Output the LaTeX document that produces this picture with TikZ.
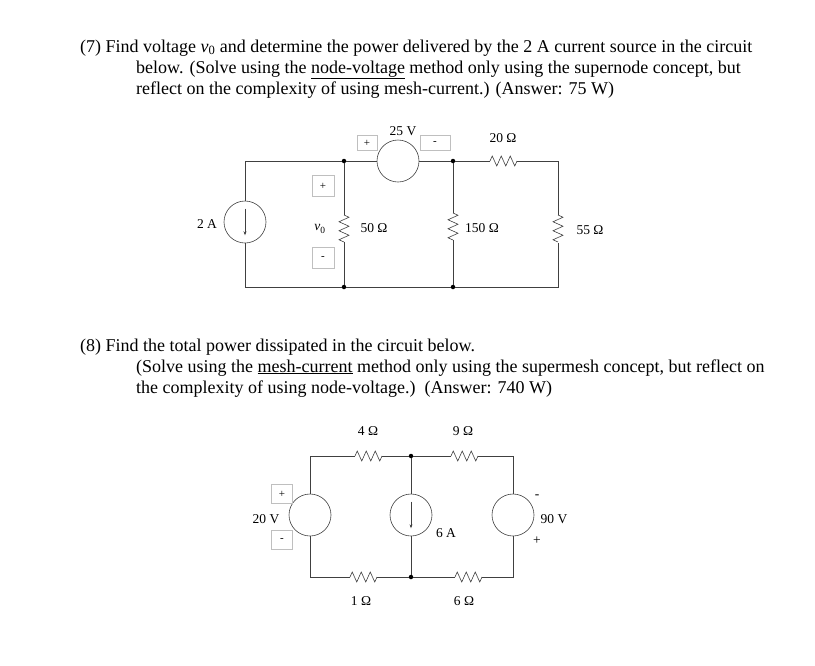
\documentclass[tikz,border=0pt]{standalone}
\usepackage{fontspec}
\setmainfont{Liberation Serif}
\usetikzlibrary{decorations.pathmorphing,arrows.meta}
\tikzset{
  wire/.style={draw=black!75, line width=0.6pt},
  res/.style={wire, decoration={zigzag, segment length=9pt, amplitude=5pt}, decorate},
  src/.style={circle, draw=black!75, line width=0.6pt, minimum size=42pt, inner sep=0pt},
  dot/.style={circle, fill=black, inner sep=0pt, minimum size=4.5pt},
  pm/.style={draw=black!25, font=\fontsize{11}{11}\selectfont, minimum width=20pt, minimum height=15pt, inner sep=0pt},
  lbl/.style={font=\fontsize{13.5}{13.5}\selectfont, inner sep=1pt},
  txt/.style={anchor=base west, font=\fontsize{18}{18}\selectfont, inner sep=0pt}
}
\begin{document}
\begin{tikzpicture}[x=1pt, y=-1pt]
\useasboundingbox (0,0) rectangle (815,665);
% problem 7 text
\node[txt] (t1) at (80,52) {(7) Find voltage \textit{v}\textsubscript{0} and determine the power delivered by the 2 A current source in the circuit};
\node[txt] (t2) at (136,73) {below. (Solve using the \underline{node-voltage} method only using the supernode concept, but};
\node[txt] (t3) at (136,94) {reflect on the complexity of using mesh-current.) (Answer: 75 W)};
% circuit 7
\coordinate (a1) at (245,161);
\coordinate (a2) at (245,287);
\node[dot] (b1) at (344,161) {};
\node[dot] (b2) at (344,287) {};
\node[dot] (c1) at (453,161) {};
\node[dot] (c2) at (453,287) {};
\coordinate (d1) at (558,161);
\coordinate (d2) at (558,287);
\node[src] (s2a) at (245,222) {};
\node[src] (s25) at (398,161) {};
\draw[-{Stealth[length=4pt]}, wire] ([yshift=-8pt]s2a.north) -- ([yshift=8pt]s2a.south);
\draw[wire] (s2a.north) -- (a1) -- (b1) -- (s25.west);
\draw[wire] (s2a.south) -- (a2) -- (b2) -- (c2) -- (d2) -- (558,243);
\draw[wire] (s25.east) -- (c1) -- (490,161);
\draw[res] (490,161) -- (517,161);
\draw[wire] (517,161) -- (d1) -- (558,215);
\draw[res] (558,215) -- (558,242);
\draw[wire] (b1) -- (344,215); \draw[res] (344,215) -- (344,242); \draw[wire] (344,242) -- (b2);
\draw[wire] (c1) -- (453,213); \draw[res] (453,213) -- (453,240); \draw[wire] (453,240) -- (c2);
\node[lbl] (l25) at (403,131) {25 V};
\node[pm] (p25) at (367,143) {+};
\node[pm, minimum width=30pt] (m25) at (435,143) {-};
\node[lbl] (l20) at (503,138) {20 Ω};
\node[lbl] (l2a) at (207,224) {2 A};
\node[pm, minimum width=22pt, minimum height=21pt] (pv) at (323,186) {+};
\node[pm, minimum width=22pt, minimum height=21pt] (mv) at (323,258) {-};
\node[lbl] (lv) at (320,229) {\textit{v}\textsubscript{0}};
\node[lbl] (l50) at (374,228) {50 Ω};
\node[lbl] (l150) at (482,228) {150 Ω};
\node[lbl] (l55) at (590,230) {55 Ω};
% problem 8 text
\node[txt] (u1) at (80,351) {(8) Find the total power dissipated in the circuit below.};
\node[txt] (u2) at (136,372) {(Solve using the \underline{mesh-current} method only using the supermesh concept, but reflect on};
\node[txt] (u3) at (136,393) {the complexity of using node-voltage.)\ \ (Answer: 740 W)};
% circuit 8
\coordinate (e1) at (310,456);
\coordinate (e2) at (310,577);
\node[dot] (f1) at (411,456) {};
\node[dot] (f2) at (411,577) {};
\coordinate (g1) at (513,456);
\coordinate (g2) at (513,577);
\node[src] (s20) at (310,515) {};
\node[src] (s6a) at (411,515) {};
\node[src] (s90) at (513,515) {};
\draw[-{Stealth[length=4pt]}, wire] ([yshift=-8pt]s6a.north) -- ([yshift=8pt]s6a.south);
\draw[wire] (s20.north) -- (e1) -- (355,456); \draw[res] (355,456) -- (382,456);
\draw[wire] (382,456) -- (f1) -- (451,456); \draw[res] (451,456) -- (478,456);
\draw[wire] (478,456) -- (g1) -- (s90.north);
\draw[wire] (s20.south) -- (e2) -- (350,577); \draw[res] (350,577) -- (377,577);
\draw[wire] (377,577) -- (f2) -- (455,577); \draw[res] (455,577) -- (482,577);
\draw[wire] (482,577) -- (g2) -- (s90.south);
\draw[wire] (f1) -- (s6a.north); \draw[wire] (s6a.south) -- (f2);
\node[lbl] (l4) at (368,431) {4 Ω};
\node[lbl] (l9) at (463,431) {9 Ω};
\node[lbl] (l1) at (361,601) {1 Ω};
\node[lbl] (l6) at (464,601) {6 Ω};
\node[lbl] (l20v) at (266,519) {20 V};
\node[pm, minimum width=21pt, minimum height=19pt] (p20) at (282,494) {+};
\node[pm, minimum width=21pt, minimum height=19pt] (m20) at (282,540) {-};
\node[lbl] (l6a) at (446,533) {6 A};
\node[lbl] (l90) at (554,519) {90 V};
\node[lbl] (m90) at (537,497) {-};
\node[lbl] (p90) at (537,541) {+};
\end{tikzpicture}
\end{document}
